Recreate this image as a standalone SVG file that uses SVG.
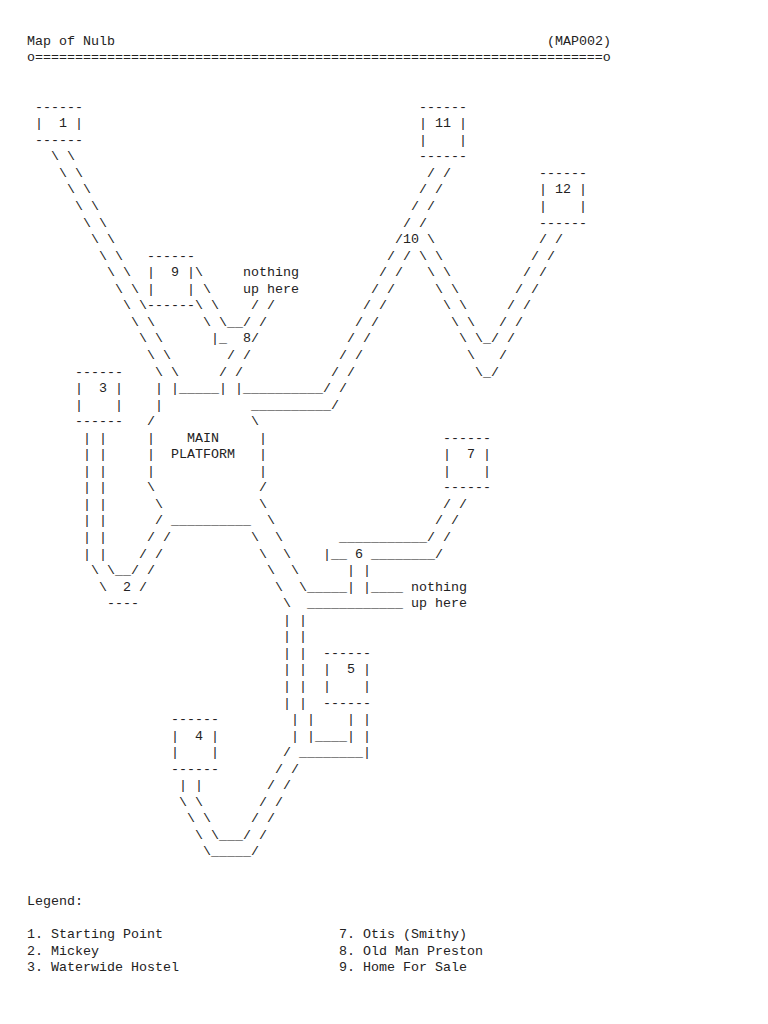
<svg xmlns="http://www.w3.org/2000/svg" width="768" height="1024" viewBox="0 0 768 1024">
<style>
text{font-family:"Liberation Mono","DejaVu Sans Mono",monospace;font-size:13.33px;fill:#222;white-space:pre}
</style>
<rect width="768" height="1024" fill="#fff"/>
<g id="map" xml:space="preserve">
<text y="44.5"><tspan x="27">Map of Nulb</tspan><tspan x="547">(MAP002)</tspan></text>
<text y="61.05"><tspan x="27">o=======================================================================o</tspan></text>
<text y="110.7"><tspan x="35">------</tspan><tspan x="419">------</tspan></text>
<text y="127.25"><tspan x="35">|  1 |</tspan><tspan x="419">| 11 |</tspan></text>
<text y="143.8"><tspan x="35">------</tspan><tspan x="419">|    |</tspan></text>
<text y="160.35"><tspan x="51">\ \</tspan><tspan x="419">------</tspan></text>
<text y="176.9"><tspan x="59">\ \</tspan><tspan x="427">/ /</tspan><tspan x="539">------</tspan></text>
<text y="193.45"><tspan x="67">\ \</tspan><tspan x="419">/ /</tspan><tspan x="539">| 12 |</tspan></text>
<text y="210"><tspan x="75">\ \</tspan><tspan x="411">/ /</tspan><tspan x="539">|    |</tspan></text>
<text y="226.55"><tspan x="83">\ \</tspan><tspan x="403">/ /</tspan><tspan x="539">------</tspan></text>
<text y="243.1"><tspan x="91">\ \</tspan><tspan x="395">/10 \</tspan><tspan x="539">/ /</tspan></text>
<text y="259.65"><tspan x="99">\ \</tspan><tspan x="147">------</tspan><tspan x="387">/ /</tspan><tspan x="419">\ \</tspan><tspan x="531">/ /</tspan></text>
<text y="276.2"><tspan x="107">\ \</tspan><tspan x="147">|  9 |\</tspan><tspan x="243">nothing</tspan><tspan x="379">/ /</tspan><tspan x="427">\ \</tspan><tspan x="523">/ /</tspan></text>
<text y="292.75"><tspan x="115">\ \</tspan><tspan x="147">|    |</tspan><tspan x="203">\</tspan><tspan x="243">up here</tspan><tspan x="371">/ /</tspan><tspan x="435">\ \</tspan><tspan x="515">/ /</tspan></text>
<text y="309.3"><tspan x="123">\ \------\ \</tspan><tspan x="251">/ /</tspan><tspan x="363">/ /</tspan><tspan x="443">\ \</tspan><tspan x="507">/ /</tspan></text>
<text y="325.85"><tspan x="131">\ \</tspan><tspan x="203">\ \__/ /</tspan><tspan x="355">/ /</tspan><tspan x="451">\ \</tspan><tspan x="499">/ /</tspan></text>
<text y="342.4"><tspan x="139">\ \</tspan><tspan x="211">|_  8/</tspan><tspan x="347">/ /</tspan><tspan x="459">\ \_/ /</tspan></text>
<text y="358.95"><tspan x="147">\ \</tspan><tspan x="227">/ /</tspan><tspan x="339">/ /</tspan><tspan x="467">\   /</tspan></text>
<text y="375.5"><tspan x="75">------</tspan><tspan x="155">\ \</tspan><tspan x="219">/ /</tspan><tspan x="331">/ /</tspan><tspan x="475">\_/</tspan></text>
<text y="392.05"><tspan x="75">|  3 |</tspan><tspan x="155">| |_____| |__________/ /</tspan></text>
<text y="408.6"><tspan x="75">|    |</tspan><tspan x="155">|</tspan><tspan x="251">__________/</tspan></text>
<text y="425.15"><tspan x="75">------</tspan><tspan x="147">/</tspan><tspan x="251">\</tspan></text>
<text y="441.7"><tspan x="83">| |</tspan><tspan x="147">|</tspan><tspan x="187">MAIN</tspan><tspan x="259">|</tspan><tspan x="443">------</tspan></text>
<text y="458.25"><tspan x="83">| |</tspan><tspan x="147">|</tspan><tspan x="171">PLATFORM</tspan><tspan x="259">|</tspan><tspan x="443">|  7 |</tspan></text>
<text y="474.8"><tspan x="83">| |</tspan><tspan x="147">|</tspan><tspan x="259">|</tspan><tspan x="443">|    |</tspan></text>
<text y="491.35"><tspan x="83">| |</tspan><tspan x="147">\</tspan><tspan x="259">/</tspan><tspan x="443">------</tspan></text>
<text y="507.9"><tspan x="83">| |</tspan><tspan x="155">\</tspan><tspan x="259">\</tspan><tspan x="443">/ /</tspan></text>
<text y="524.45"><tspan x="83">| |</tspan><tspan x="155">/ __________</tspan><tspan x="267">\</tspan><tspan x="435">/ /</tspan></text>
<text y="541"><tspan x="83">| |</tspan><tspan x="147">/ /</tspan><tspan x="251">\</tspan><tspan x="275">\</tspan><tspan x="339">___________/ /</tspan></text>
<text y="557.55"><tspan x="83">| |</tspan><tspan x="139">/ /</tspan><tspan x="259">\</tspan><tspan x="283">\</tspan><tspan x="323">|__ 6 ________/</tspan></text>
<text y="574.1"><tspan x="91">\ \__/ /</tspan><tspan x="267">\</tspan><tspan x="291">\</tspan><tspan x="347">| |</tspan></text>
<text y="590.65"><tspan x="99">\  2 /</tspan><tspan x="275">\</tspan><tspan x="299">\_____| |____ nothing</tspan></text>
<text y="607.2"><tspan x="107">----</tspan><tspan x="283">\</tspan><tspan x="307">____________</tspan><tspan x="411">up here</tspan></text>
<text y="623.75"><tspan x="283">| |</tspan></text>
<text y="640.3"><tspan x="283">| |</tspan></text>
<text y="656.85"><tspan x="283">| |</tspan><tspan x="323">------</tspan></text>
<text y="673.4"><tspan x="283">| |</tspan><tspan x="323">|  5 |</tspan></text>
<text y="689.95"><tspan x="283">| |</tspan><tspan x="323">|    |</tspan></text>
<text y="706.5"><tspan x="283">| |</tspan><tspan x="323">------</tspan></text>
<text y="723.05"><tspan x="171">------</tspan><tspan x="291">| |</tspan><tspan x="347">| |</tspan></text>
<text y="739.6"><tspan x="171">|  4 |</tspan><tspan x="291">| |____| |</tspan></text>
<text y="756.15"><tspan x="171">|    |</tspan><tspan x="283">/ ________|</tspan></text>
<text y="772.7"><tspan x="171">------</tspan><tspan x="275">/ /</tspan></text>
<text y="789.25"><tspan x="179">| |</tspan><tspan x="267">/ /</tspan></text>
<text y="805.8"><tspan x="179">\ \</tspan><tspan x="259">/ /</tspan></text>
<text y="822.35"><tspan x="187">\ \</tspan><tspan x="251">/ /</tspan></text>
<text y="838.9"><tspan x="195">\ \___/ /</tspan></text>
<text y="855.45"><tspan x="203">\_____/</tspan></text>
<text y="905.1"><tspan x="27">Legend:</tspan></text>
<text y="938.2"><tspan x="27">1. Starting Point</tspan><tspan x="339">7. Otis (Smithy)</tspan></text>
<text y="954.75"><tspan x="27">2. Mickey</tspan><tspan x="339">8. Old Man Preston</tspan></text>
<text y="971.3"><tspan x="27">3. Waterwide Hostel</tspan><tspan x="339">9. Home For Sale</tspan></text>
</g>
</svg>
